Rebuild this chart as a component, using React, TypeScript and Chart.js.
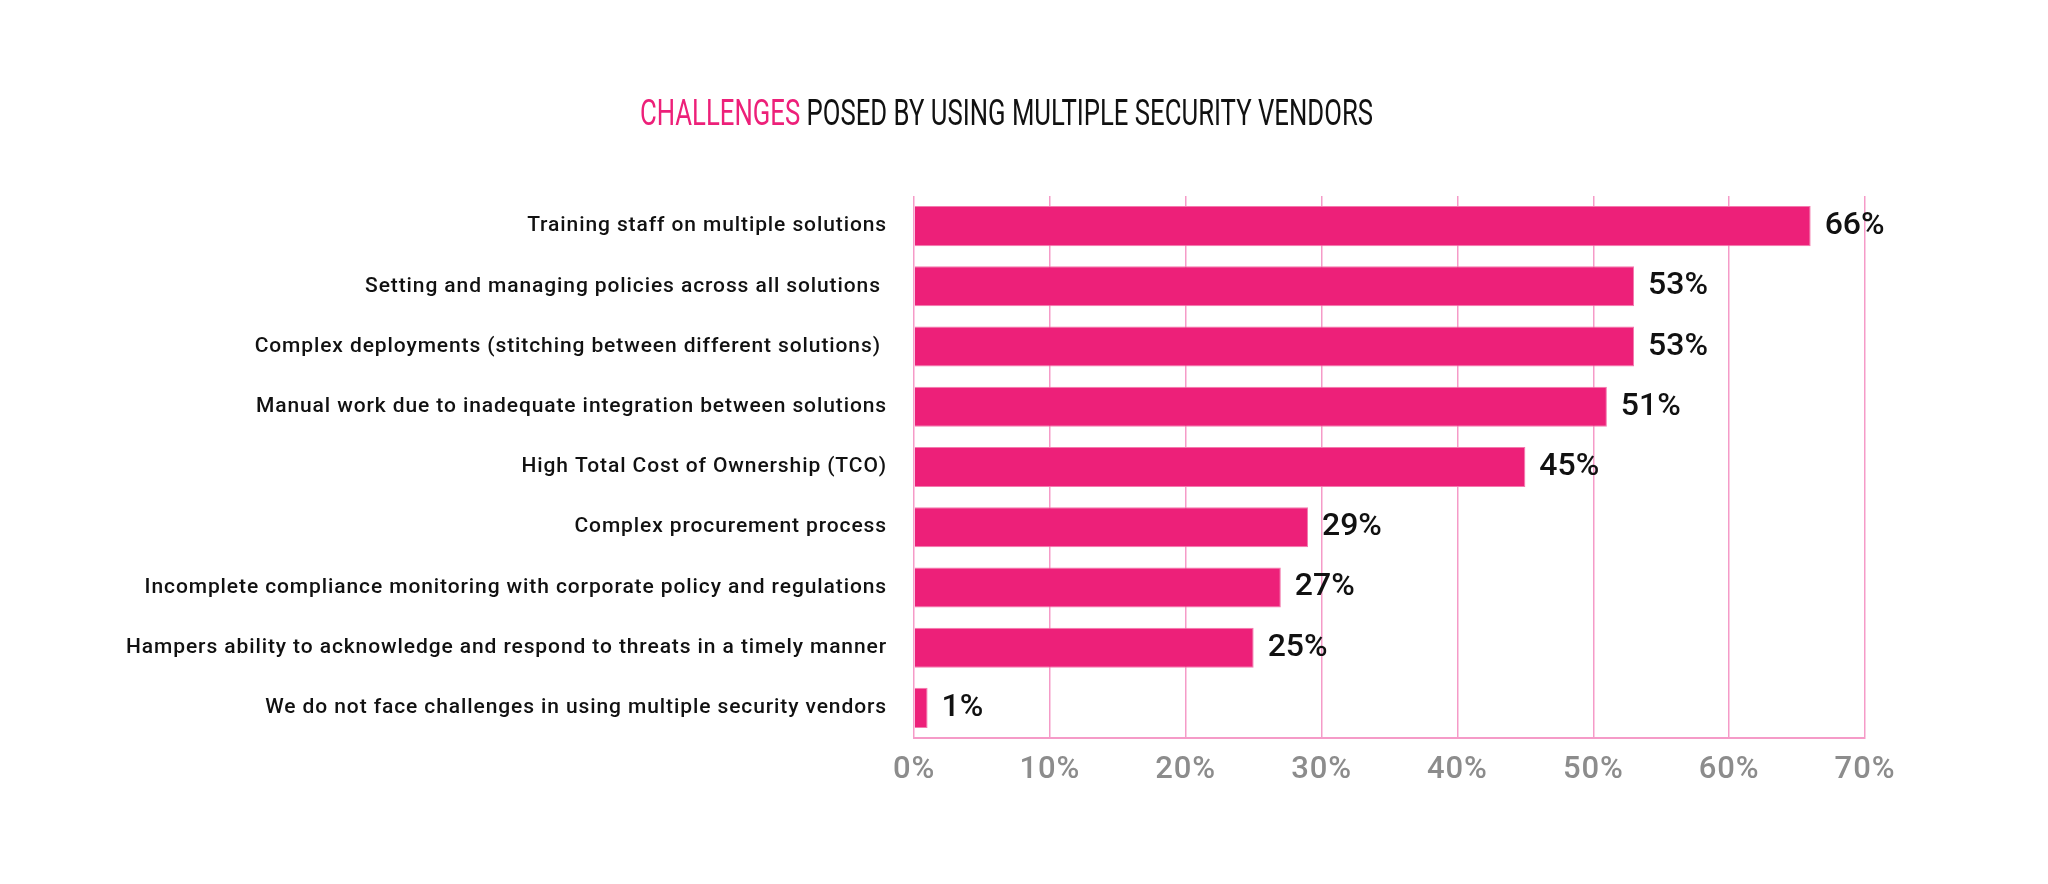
import { useEffect, useRef } from "react";
import { Chart, registerables } from "chart.js";

Chart.register(...registerables);

const challenges = [
  "Training staff on multiple solutions",
  "Setting and managing policies across all solutions ",
  "Complex deployments (stitching between different solutions) ",
  "Manual work due to inadequate integration between solutions",
  "High Total Cost of Ownership (TCO)",
  "Complex procurement process",
  "Incomplete compliance monitoring with corporate policy and regulations",
  "Hampers ability to acknowledge and respond to threats in a timely manner",
  "We do not face challenges in using multiple security vendors",
];
const shares = [66, 53, 53, 51, 45, 29, 27, 25, 1];
const titleAccent = "CHALLENGES";
const titleRest = " POSED BY USING MULTIPLE SECURITY VENDORS";

const PINK = "#ED2079";
const GRID = "#F59BC8";

// axis labels in the original are a bit letter-spaced
const spacing = {
  id: "spacing",
  beforeDraw(chart: any) {
    chart.ctx.letterSpacing = "0.9px";
  },
  beforeDatasetsDraw(chart: any) {
    chart.ctx.letterSpacing = "0px";
  },
};

// two-colour, narrowed title (Chart.js title can't mix colours)
const titlePlugin = {
  id: "twoToneTitle",
  afterDraw(chart: any) {
    const ctx = chart.ctx;
    ctx.save();
    ctx.letterSpacing = "0px";
    ctx.font = "400 36px Roboto";
    ctx.textBaseline = "alphabetic";
    const wA = ctx.measureText(titleAccent).width;
    const wR = ctx.measureText(titleRest).width;
    const sx = 733 / (wA + wR);
    ctx.translate(640, 125);
    ctx.scale(sx, 1);
    ctx.fillStyle = PINK;
    ctx.fillText(titleAccent, 0, 0);
    ctx.fillStyle = "#111";
    ctx.fillText(titleRest, wA, 0);
    ctx.restore();
  },
};

const valueLabels = {
  id: "valueLabels",
  afterDatasetsDraw(chart: any) {
    const ctx = chart.ctx;
    const meta = chart.getDatasetMeta(0);
    ctx.save();
    ctx.font = "500 32px Roboto";
    ctx.fillStyle = "#111";
    ctx.textBaseline = "middle";
    meta.data.forEach((bar: any, i: number) => {
      ctx.fillText(`${shares[i]}%`, bar.x + 14, bar.y);
    });
    ctx.restore();
  },
};

const App = () => {
  const canvasRef = useRef<HTMLCanvasElement>(null);

  useEffect(() => {
    document.body.style.margin = "0";
    if (!canvasRef.current) return;
    const ctx = canvasRef.current.getContext("2d");
    if (!ctx) return;

    const chart = new Chart(ctx, {
      type: "bar",
      data: {
        labels: challenges,
        datasets: [
          {
            data: shares,
            backgroundColor: PINK,
            borderColor: "#F37AAE",
            borderWidth: 1,
            categoryPercentage: 1,
            barPercentage: 0.665,
          },
        ],
      },
      options: {
        indexAxis: "y",
        animation: false,
        responsive: false,
        layout: { padding: { top: 196, right: 183, bottom: 0, left: 0 } },
        plugins: {
          legend: { display: false },
          title: { display: false },
          tooltip: { enabled: false },
        },
        scales: {
          x: {
            min: 0,
            max: 70,
            ticks: {
              stepSize: 10,
              padding: 14,
              color: "#8C8C8C",
              font: { family: "Roboto", size: 31, weight: 500 },
              callback: (v: any) => `${v}%`,
            },
            grid: { color: GRID, lineWidth: 1.5, drawTicks: false },
            border: { color: GRID, width: 2 },
            afterFit: (s: any) => {
              s.height = 884 - 738;
            },
          },
          y: {
            ticks: {
              padding: 27,
              color: "#111",
              font: { family: "Roboto", size: 21, weight: 500 },
            },
            grid: { display: false, drawTicks: false },
            border: { display: false },
            afterFit: (s: any) => {
              s.width = 914;
            },
          },
        },
      },
      plugins: [spacing, titlePlugin, valueLabels],
    });

    return () => chart.destroy();
  }, []);

  return (
    <div style={{ width: 2048, height: 884, background: "#fff" }}>
      <canvas ref={canvasRef} width={2048} height={884} style={{ display: "block" }}></canvas>
    </div>
  );
};

export default App;
